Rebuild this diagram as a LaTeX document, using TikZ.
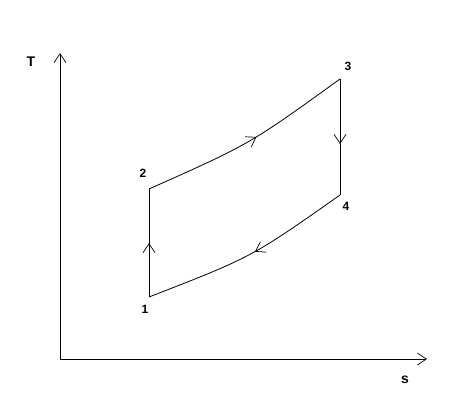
\documentclass[tikz,border=0pt]{standalone}
\usepackage{fontspec}
\setmainfont{Liberation Sans}
\usetikzlibrary{arrows.meta,decorations.markings}
\tikzset{
  barb/.tip={Straight Barb[length=9pt,width=12pt,line width=0.7pt]},
  line/.style={line width=0.8pt, black},
  midarrow/.style={decoration={markings, mark=at position #1 with {\arrow{barb}}}, postaction={decorate}},
  lbl/.style={font=\bfseries\fontsize{12}{14}\selectfont, inner sep=0pt},
  axlbl/.style={font=\bfseries\fontsize{14}{16}\selectfont, inner sep=0pt}
}
\begin{document}
\begin{tikzpicture}[x=1pt,y=-1pt]
\useasboundingbox (0,0) rectangle (450,413);
\coordinate (o) at (60,359);
\coordinate (ty) at (60,53);
\coordinate (sx) at (427,359);
\coordinate (p1) at (149,297);
\coordinate (p2) at (149,189);
\coordinate (p3) at (340,79);
\coordinate (p4) at (340,195);
\draw[line,-{barb}] (o) -- (ty);
\draw[line,-{barb}] (o) -- (sx);
\node[axlbl] (T) at (31,62) {T};
\node[axlbl] (S) at (405,380) {s};
\draw[line,midarrow=0.5] (p1) -- (p2);
\draw[line,midarrow=0.54] (p2) .. controls (250,144) .. (p3);
\draw[line,midarrow=0.56] (p3) -- (p4);
\draw[line,midarrow=0.47] (p4) .. controls (252,257) .. (p1);
\node[lbl] (l1) at (145,309) {1};
\node[lbl] (l2) at (143,173.5) {2};
\node[lbl] (l3) at (348,66) {3};
\node[lbl] (l4) at (346,206) {4};
\end{tikzpicture}
\end{document}
